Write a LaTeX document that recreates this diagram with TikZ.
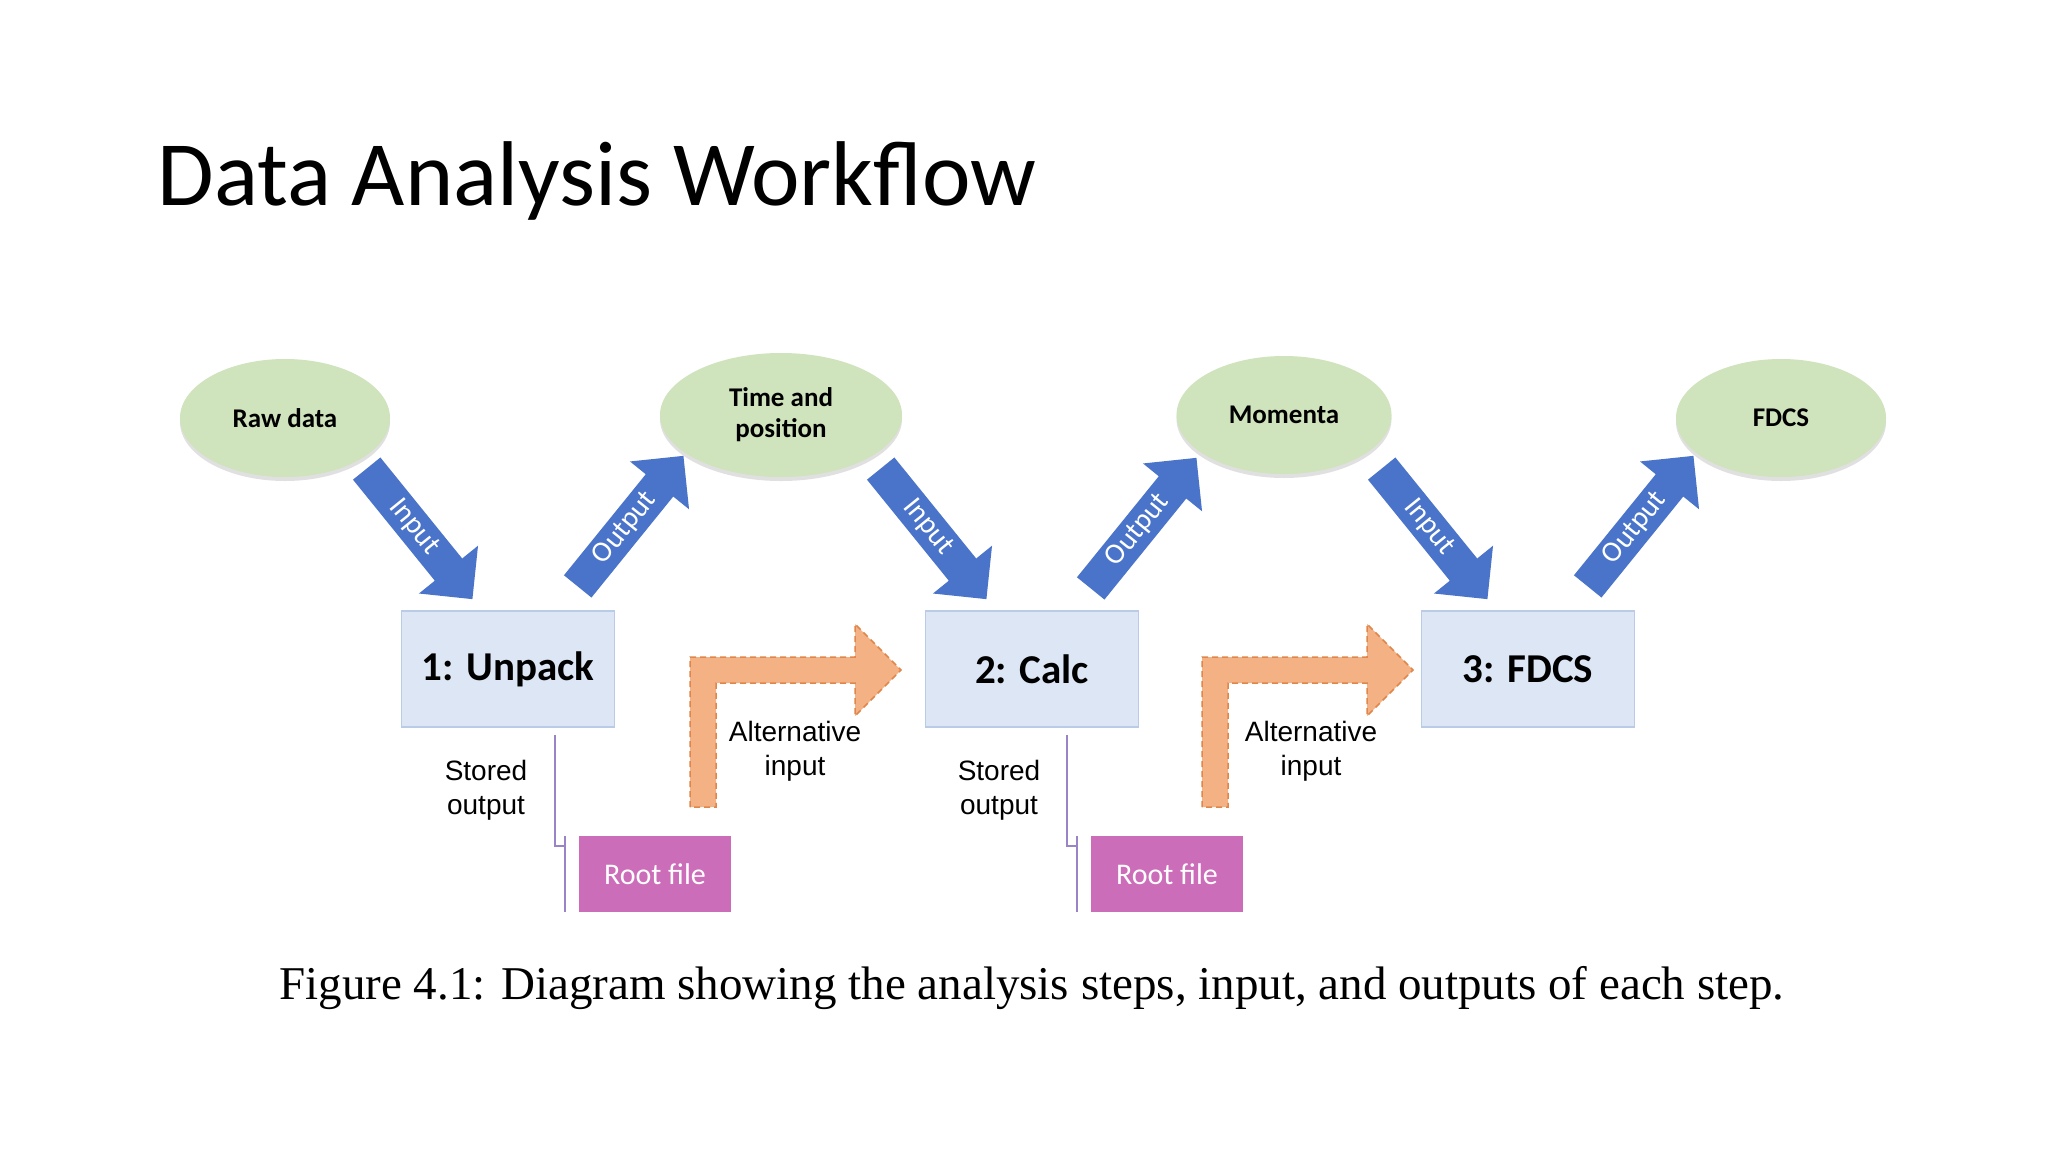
\documentclass[tikz,border=0pt]{standalone}
\usepackage{fontspec}
\setmainfont{Carlito}
\newfontfamily\hel{Liberation Sans}
\newfontfamily\tim{Liberation Serif}
\usetikzlibrary{shapes.geometric,shapes.arrows,shadows}
\definecolor{ell}{HTML}{CFE3BC}
\definecolor{boxf}{HTML}{DCE6F4}
\definecolor{boxd}{HTML}{B9CBE6}
\definecolor{blu}{HTML}{4A74C9}
\definecolor{orf}{HTML}{F4B183}
\definecolor{ord}{HTML}{E0864A}
\definecolor{pnk}{HTML}{CC6DB9}
\definecolor{pur}{HTML}{9A84C8}
\tikzset{
 data/.style={ellipse,fill=ell,draw=none,minimum width=210pt,minimum height=118pt,font=\fontsize{27}{31}\selectfont\bfseries,align=center,
   drop shadow={shadow xshift=0pt,shadow yshift=-4pt,fill=black!20,opacity=.6}},
 stepbox/.style={rectangle,fill=boxf,draw=boxd,line width=1.5pt,minimum width=213pt,minimum height=116pt,font=\fontsize{41}{45}\selectfont\bfseries},
 root/.style={rectangle,fill=pnk,draw=none,minimum width=152pt,minimum height=76pt,text=white,font=\fontsize{30}{34}\selectfont},
 fat/.style={single arrow,fill=blu,draw=none,minimum height=168pt,minimum width=76pt,single arrow head extend=16pt,single arrow head indent=0pt,inner sep=2pt,text=white,font=\fontsize{29}{31}\selectfont,anchor=center},
 lab/.style={font=\hel\fontsize{28}{34}\selectfont,align=center},
 brk/.style={draw=pur,line width=1.5pt},
 alt/.style={fill=orf,draw=ord,line width=1.5pt,dash pattern=on 6pt off 4pt}
}
\begin{document}
\begin{tikzpicture}[x=1pt,y=1pt]
\useasboundingbox[fill=white] (0,0) rectangle (2048,-1152);
\node[anchor=base west,font=\fontsize{92}{104}\selectfont] (title) at (154,-205) {Data Analysis Workflow};

\node[data] (raw) at (285,-418) {Raw data};
\node[data,minimum width=242pt,minimum height=124pt] (tp) at (781,-415) {Time and\\position};
\node[data,minimum width=215pt] (mom) at (1284,-415) {Momenta};
\node[data] (fd) at (1781,-418) {FDCS};

\node[stepbox] (s1) at (508,-669) {1: Unpack};
\node[stepbox] (s2) at (1032,-669) {2: Calc};
\node[stepbox] (s3) at (1528,-669) {3: FDCS};

\node[root] (r1) at (655,-874) {Root file};
\node[root] (r2) at (1167,-874) {Root file};

% blue fat arrows
\node[fat,rotate=-51] (i1) at (414,-527) {Input};
\node[fat,rotate=51] (o1) at (625,-528) {Output};
\node[fat,rotate=-51] (i2) at (928,-527) {Input};
\node[fat,rotate=51] (o2) at (1138,-530) {Output};
\node[fat,rotate=-51] (i3) at (1429,-527) {Input};
\node[fat,rotate=51] (o3) at (1635,-528) {Output};

% stored output brackets
\coordinate (b1a) at (555,-735);
\coordinate (b1b) at (555,-846);
\coordinate (b1c) at (565,-846);
\draw[brk] (b1a) -- (b1b) -- (b1c);
\draw[brk] (565,-836) -- (565,-912);
\coordinate (b2a) at (1067,-735);
\coordinate (b2b) at (1067,-846);
\coordinate (b2c) at (1077,-846);
\draw[brk] (b2a) -- (b2b) -- (b2c);
\draw[brk] (1077,-836) -- (1077,-912);
\node[lab] (so1) at (486,-790) {Stored\\output};
\node[lab] (so2) at (999,-790) {Stored\\output};

% orange bent arrows
\foreach \dx in {0,512}{
 \begin{scope}[xshift=\dx]
 \draw[alt] (690,-807) -- (690,-657) -- (855,-657) -- (855,-624) -- (901,-670) -- (855,-716) -- (855,-683) -- (716,-683) -- (716,-807) -- cycle;
 \end{scope}
}
\node[lab] (al1) at (795,-751) {Alternative\\input};
\node[lab] (al2) at (1311,-751) {Alternative\\input};

\node[font=\tim\fontsize{47}{52}\selectfont,anchor=base] (cap) at (1032,-999) {Figure 4.1: Diagram showing the analysis steps, input, and outputs of each step.};
\end{tikzpicture}
\end{document}
